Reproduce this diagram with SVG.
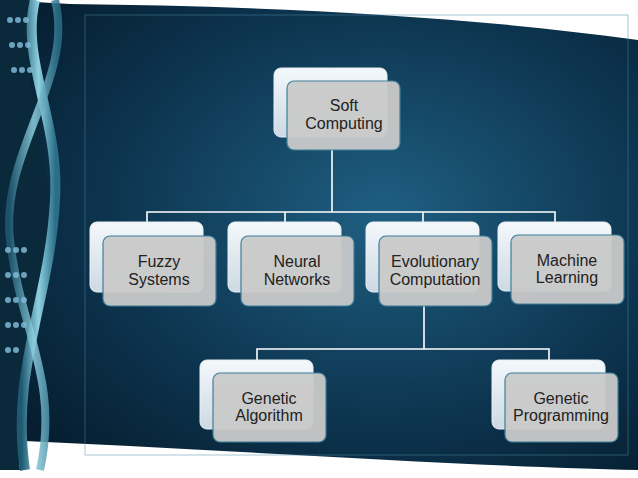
<svg xmlns="http://www.w3.org/2000/svg" width="638" height="478" viewBox="0 0 638 478">
<defs>
<radialGradient id="bg" cx="0.6" cy="0.45" r="0.7">
<stop offset="0" stop-color="#1f5f82"/><stop offset="0.6" stop-color="#0d3550"/><stop offset="1" stop-color="#061e30"/>
</radialGradient>
<linearGradient id="back" x1="0" y1="0" x2="0" y2="1"><stop offset="0" stop-color="#f4f8fb"/><stop offset="1" stop-color="#cdd9e3"/></linearGradient>
<linearGradient id="dna" x1="0" y1="0" x2="1" y2="0"><stop offset="0" stop-color="#1f5a72"/><stop offset="0.5" stop-color="#8fd0e0"/><stop offset="1" stop-color="#2a6f88"/></linearGradient>
</defs>
<style>
.b{fill:url(#back);stroke:#e8eef3;stroke-width:1}
.f{fill:#c9c9c9;fill-opacity:0.95;stroke:#3f7f9a;stroke-width:1.2}
.t{font-family:"Liberation Sans",Arial,sans-serif;font-size:16px;fill:#222;text-anchor:middle}
.c{stroke:#ffffff;stroke-width:1.6;fill:none}
</style>
<rect width="638" height="478" fill="#ffffff"/>
<path d="M0 0 L70 4 C250 6 450 14 638 40 L638 478 L0 478 Z" fill="url(#bg)"/>
<path d="M0 478 L0 440 C200 448 450 466 638 470 L638 478 Z" fill="#ffffff"/>
<rect x="85" y="15" width="543" height="440" fill="none" stroke="#4d8aa5" stroke-width="0.8" opacity="0.6"/>
<g id="dna-art">
<path d="M0 0 L0 470 L20 470 C10 380 60 300 50 200 C40 120 20 60 30 0 Z" fill="#0a2a3c"/>
<path d="M35 0 C20 60 60 120 55 200 C50 300 10 370 25 470" stroke="url(#dna)" stroke-width="10" fill="none"/>
<path d="M55 0 C75 80 0 150 10 240 C20 330 60 380 40 470" stroke="url(#dna)" stroke-width="8" fill="none" opacity="0.85"/>
<g fill="#7fb8d6" opacity="0.85">
<circle cx="10" cy="20" r="3"/><circle cx="18" cy="20" r="3"/><circle cx="26" cy="20" r="3"/>
<circle cx="12" cy="45" r="3"/><circle cx="20" cy="45" r="3"/><circle cx="28" cy="45" r="3"/>
<circle cx="14" cy="70" r="3"/><circle cx="22" cy="70" r="3"/><circle cx="30" cy="70" r="3"/>
<circle cx="8" cy="250" r="3"/><circle cx="16" cy="250" r="3"/><circle cx="24" cy="250" r="3"/>
<circle cx="8" cy="275" r="3"/><circle cx="16" cy="275" r="3"/><circle cx="24" cy="275" r="3"/>
<circle cx="8" cy="300" r="3"/><circle cx="16" cy="300" r="3"/><circle cx="24" cy="300" r="3"/>
<circle cx="8" cy="325" r="3"/><circle cx="16" cy="325" r="3"/><circle cx="24" cy="325" r="3"/>
<circle cx="8" cy="350" r="3"/><circle cx="16" cy="350" r="3"/>
</g>
</g>
<g id="connectors">
<path class="c" d="M332 150 V212 M147 222 V212 H555 V222 M285 212 V222 M423 212 V222"/>
<path class="c" d="M424 306 V349 M257 360 V349 H549 V360"/>
</g>
<g id="soft"><rect class="b" x="274" y="68" width="113" height="69" rx="7"/><rect class="f" x="287" y="81" width="113" height="69" rx="7"/><text class="t" x="344" y="111">Soft</text><text class="t" x="344" y="129">Computing</text></g>
<g id="fuzzy"><rect class="b" x="90" y="222" width="113" height="70" rx="7"/><rect class="f" x="103" y="236" width="113" height="70" rx="7"/><text class="t" x="159" y="267">Fuzzy</text><text class="t" x="159" y="285">Systems</text></g>
<g id="neural"><rect class="b" x="228" y="222" width="113" height="70" rx="7"/><rect class="f" x="241" y="236" width="113" height="70" rx="7"/><text class="t" x="297" y="267">Neural</text><text class="t" x="297" y="285">Networks</text></g>
<g id="evo"><rect class="b" x="366" y="222" width="113" height="70" rx="7"/><rect class="f" x="379" y="236" width="113" height="70" rx="7"/><text class="t" x="435" y="267">Evolutionary</text><text class="t" x="435" y="285">Computation</text></g>
<g id="ml"><rect class="b" x="498" y="222" width="113" height="69" rx="7"/><rect class="f" x="511" y="235" width="113" height="69" rx="7"/><text class="t" x="567" y="266">Machine</text><text class="t" x="567" y="283">Learning</text></g>
<g id="ga"><rect class="b" x="200" y="360" width="113" height="69" rx="7"/><rect class="f" x="213" y="373" width="113" height="69" rx="7"/><text class="t" x="269" y="404">Genetic</text><text class="t" x="269" y="421">Algorithm</text></g>
<g id="gp"><rect class="b" x="492" y="360" width="113" height="69" rx="7"/><rect class="f" x="505" y="373" width="113" height="69" rx="7"/><text class="t" x="561" y="404">Genetic</text><text class="t" x="561" y="421">Programming</text></g>
</svg>
